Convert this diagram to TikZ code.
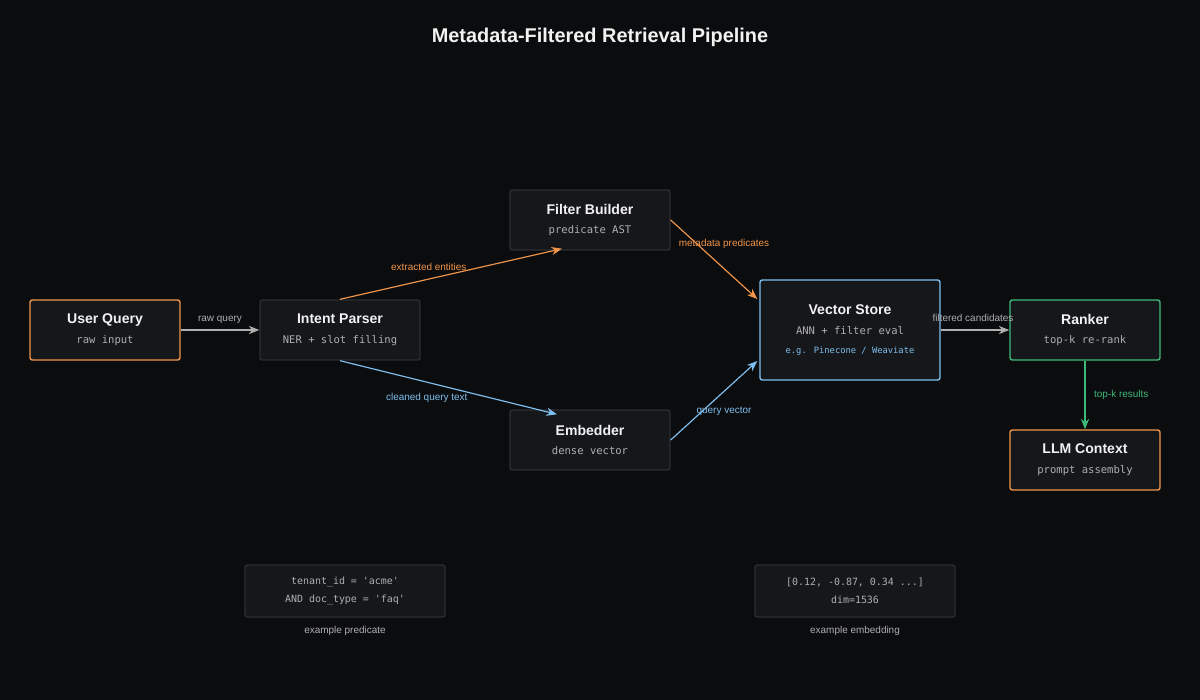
\documentclass[tikz,border=0pt]{standalone}
\usepackage{fontspec}
\setmainfont{Liberation Sans}
\newfontfamily\monof{DejaVu Sans Mono}
\usetikzlibrary{calc,arrows.meta}
\definecolor{bg}{HTML}{0B0C0E}
\definecolor{nfill}{HTML}{15171B}
\definecolor{nbord}{HTML}{2A2D33}
\definecolor{cor}{HTML}{F0954A}
\definecolor{cbl}{HTML}{7FBFEF}
\definecolor{cgr}{HTML}{3FB97A}
\definecolor{ctx}{HTML}{F2F2F2}
\definecolor{cgy}{HTML}{AFAFAF}
\tikzset{
  box/.style={draw=nbord, fill=nfill, line width=1.2pt, rounded corners=2pt, minimum height=60*0.03cm, inner sep=0pt},
  lab/.style={font=\fontsize{8.5}{10}\selectfont},
  arr/.style={line width=1pt, -{Stealth[length=9pt,width=7pt]}},
}
\newcommand{\boxtxt}[2]{{\fontsize{12}{14}\selectfont\bfseries\color{ctx}#1}\\[5pt]{\monof\fontsize{9}{11}\selectfont\color{cgy}#2}}
\begin{document}
\begin{tikzpicture}[x=0.03cm,y=-0.03cm]
\fill[bg] (0,0) rectangle (1200,700);
\useasboundingbox (0,0) rectangle (1200,700);
\node[text=ctx, font=\fontsize{17}{20}\selectfont\bfseries] (title) at (600,37) {Metadata-Filtered Retrieval Pipeline};

\node[box, draw=cor, minimum width=150*0.03cm, align=center] (uq) at (105,330) {\boxtxt{User Query}{raw input}};
\node[box, minimum width=160*0.03cm, align=center] (ip) at (340,330) {\boxtxt{Intent Parser}{NER + slot filling}};
\node[box, minimum width=160*0.03cm, align=center] (fb) at (590,220) {\boxtxt{Filter Builder}{predicate AST}};
\node[box, minimum width=160*0.03cm, align=center] (em) at (590,440) {\boxtxt{Embedder}{dense vector}};
\node[box, draw=cbl, minimum width=180*0.03cm, minimum height=100*0.03cm, align=center] (vs) at (850,330) {\boxtxt{Vector Store}{ANN + filter eval}\\[4pt]{\monof\fontsize{7.5}{9}\selectfont\color{cbl}e.g. Pinecone / Weaviate}};
\node[box, draw=cgr, minimum width=150*0.03cm, align=center] (rk) at (1085,330) {\boxtxt{Ranker}{top-k re-rank}};
\node[box, draw=cor, minimum width=150*0.03cm, align=center] (llm) at (1085,460) {\boxtxt{LLM Context}{prompt assembly}};

\node[box, minimum width=200*0.03cm, minimum height=52*0.03cm, align=center, font=\monof\fontsize{8.5}{15}\selectfont, text=cgy] (ep) at (345,591) {tenant\_id = 'acme'\\AND doc\_type = 'faq'};
\node[lab, text=cgy, anchor=north] (epl) at ($(ep.south)+(0,4)$) {example predicate};
\node[box, minimum width=200*0.03cm, minimum height=52*0.03cm, align=center, font=\monof\fontsize{8.5}{15}\selectfont, text=cgy] (ee) at (855,591) {[0.12, -0.87, 0.34 ...]\\dim=1536};
\node[lab, text=cgy, anchor=north] (eel) at ($(ee.south)+(0,4)$) {example embedding};

\coordinate (fbin) at ($(fb.south)+(-28,-2)$);
\coordinate (emin) at ($(em.north)+(-33,5)$);
\draw[arr, cgy] (uq.east) -- (ip.west) node[midway, above=2pt, lab, text=cgy] {raw query};
\draw[arr, cor] (ip.north) -- (fbin) node[pos=0.4, above=3pt, lab, text=cor] {extracted entities};
\draw[arr, cbl] (ip.south) -- (emin) node[pos=0.4, below=6pt, lab, text=cbl] {cleaned query text};
\draw[arr, cor] (fb.east) -- ($(vs.west)+(-2,-31)$);
\draw[arr, cbl] (em.east) -- ($(vs.west)+(-2,31)$);
\node[lab, text=cbl] (qv) at (724,411) {query vector};
\node[lab, text=cor] (mp) at (724,244) {metadata predicates};
\draw[arr, cgy] (vs.east) -- (rk.west);
\node[lab, text=cgy] (fc) at (973,318) {filtered candidates};
\draw[arr, cgr] (rk.south) -- (llm.north) node[midway, right=4pt, lab, text=cgr] {top-k results};
\end{tikzpicture}
\end{document}
